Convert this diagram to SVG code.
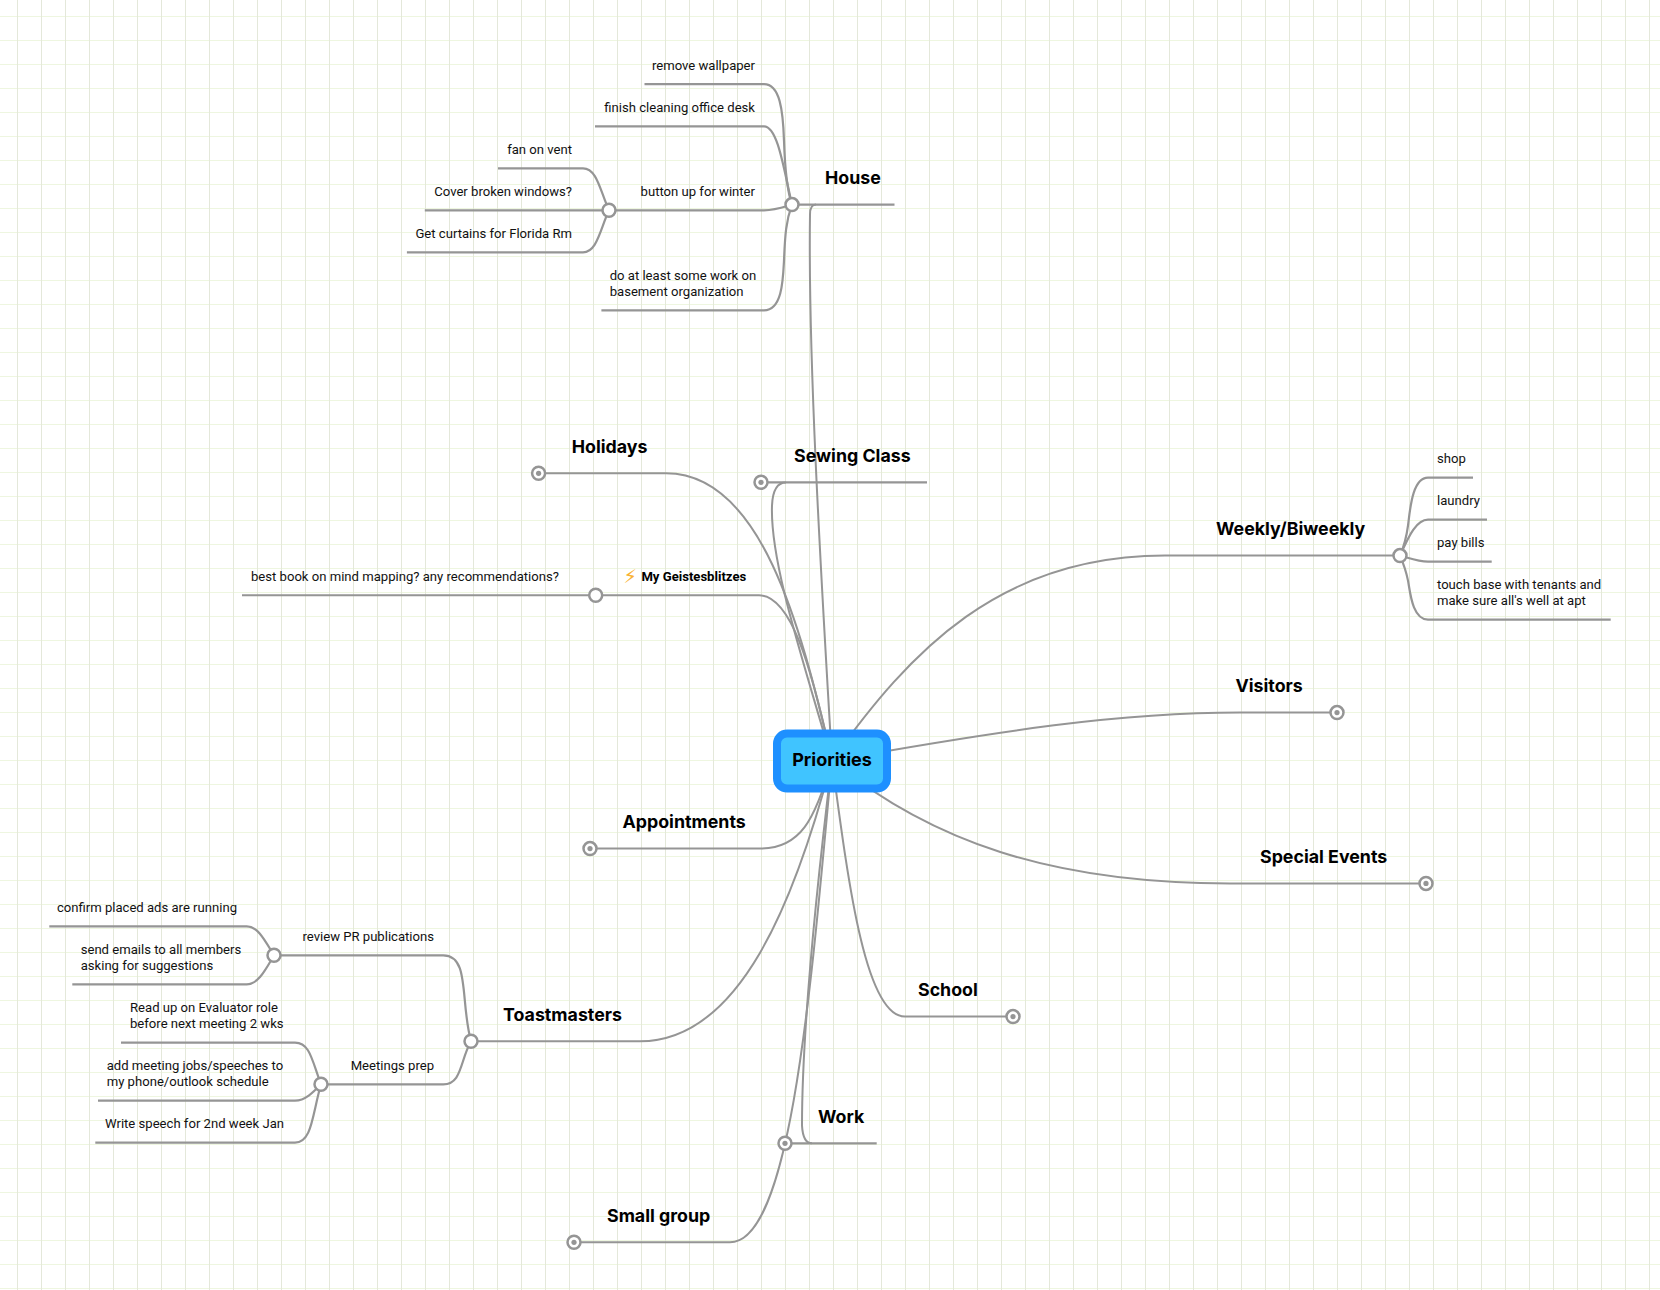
<svg xmlns="http://www.w3.org/2000/svg" width="1660" height="1290" viewBox="0 0 1660 1290">
<style>
text{font-family:Roboto,sans-serif;fill:#111;transform:translateY(-.6px)}
.t{font-family:Inter,sans-serif;font-size:17.8px;font-weight:700;fill:#000}
.s{font-size:13.1px}
.b{font-size:13.1px;font-weight:700;fill:#000}
.e{fill:none;stroke:#959595;stroke-width:2}
.l{fill:none;stroke:#959595;stroke-width:2.2}
.o{fill:#fff;stroke:#959595;stroke-width:2.5}
.d{fill:#959595;stroke:none}
.r{text-anchor:end}
</style>
<defs>
<pattern id="g" width="24" height="24" patternUnits="userSpaceOnUse">
<rect x="0" y="16" width="24" height="1" fill="#eef6e0"/>
<rect x="17" y="0" width="1" height="24" fill="#e4e8da"/>
</pattern>
<g id="open"><circle r="6.5" class="o"/></g>
<g id="closed"><circle r="6.5" class="o"/><circle r="2.6" class="d"/></g>
</defs>
<rect width="1660" height="1290" fill="#fff"/>
<rect width="1660" height="1290" fill="url(#g)"/>
<g transform="translate(0 .6)">
<g id="connectors">
<path class="e" d="M832,760C820,560 808,350 810,214Q810,204 816,204"/>
<path class="l" d="M792,204H894.5"/>
<path class="l" d="M644.5,83.5H764C780,83.5 783,110 784,140C785,170 787,190 792,204"/>
<path class="l" d="M595,125.7H764C778,125.7 784,170 792,204"/>
<path class="l" d="M609,209.7H764C775,209.7 782,207 792,204"/>
<path class="l" d="M601.4,309.7H764C782,309.7 783,280 784,260C785,235 786,220 792,204"/>
<path class="l" d="M498,167.7H583C597,167.7 600,190 609,209.7"/>
<path class="l" d="M424.8,209.7H609"/>
<path class="l" d="M406.9,251.7H583C597,251.7 600,229 609,209.7"/>
<path class="e" d="M538.6,472.7H666C760,472.7 800,620 832,760"/>
<path class="e" d="M832,760C800,650 770,560 772,505Q773,482 786,482"/>
<path class="l" d="M761,481.7H927"/>
<path class="e" d="M242,594.7H759C790,594.7 810,660 832,760"/>
<path class="e" d="M832,760C910,650 1000,555 1165,555H1400"/>
<path class="l" d="M1428,477H1473M1428,519H1487M1428,561H1491.7M1428,619H1610.7"/>
<path class="l" d="M1428,477C1412,477 1410,510 1408,525C1406,540 1403,548 1400,555"/>
<path class="l" d="M1428,519C1415,519 1407,540 1400,555"/>
<path class="l" d="M1428,561C1418,561 1408,557 1400,555"/>
<path class="l" d="M1428,619C1412,619 1410,590 1408,580C1406,570 1403,562 1400,555"/>
<path class="e" d="M832,760C1000,730 1120,712 1240,712H1337"/>
<path class="e" d="M832,760C930,840 1050,882.8 1230,882.8H1426"/>
<path class="e" d="M832,760C848,880 865,1016 905,1016H1013"/>
<path class="e" d="M832,760C815,900 802,1040 802,1125Q803,1142.7 812,1142.7"/>
<path class="l" d="M785,1142.7H876.7"/>
<path class="e" d="M574,1241.7H730C790,1241.7 810,1000 832,760"/>
<path class="e" d="M590,848H760C800,848 815,820 832,760"/>
<path class="e" d="M471,1040.7H640C740,1040.7 795,900 832,760"/>
<path class="l" d="M274,954.7H443.3C470,954.7 460,1000 471,1040.7"/>
<path class="l" d="M321,1083.7H443.3C462,1083.7 460,1060 471,1040.7"/>
<path class="l" d="M49.3,925.7H246.7C258,925.7 265,940 274,954.7"/>
<path class="l" d="M72.3,983.7H246.7C258,983.7 265,970 274,954.7"/>
<path class="l" d="M121,1042H295C310,1042 312,1060 321,1083.7"/>
<path class="l" d="M98,1100H295C305,1100 313,1092 321,1083.7"/>
<path class="l" d="M95.3,1142H295C312,1142 312,1115 321,1083.7"/>
</g>
<g id="n-center"><rect x="777" y="733" width="110" height="55" rx="10" fill="#40c4ff" stroke="#1e90ff" stroke-width="8"/><text x="832" y="766" text-anchor="middle" style="font-family:Inter,sans-serif;font-size:18px;font-weight:700;fill:#000">Priorities</text></g>
<g id="n-house"><text class="t" x="825" y="184">House</text><use href="#open" x="792" y="204"/></g>
<g id="n-remove"><text class="s r" x="755" y="70">remove wallpaper</text></g>
<g id="n-finish"><text class="s r" x="755" y="112">finish cleaning office desk</text></g>
<g id="n-button"><text class="s r" x="755" y="196">button up for winter</text><use href="#open" x="609" y="209.7"/></g>
<g id="n-basement"><text class="s" x="609.7" y="280">do at least some work on</text><text class="s" x="609.7" y="296">basement organization</text></g>
<g id="n-fan"><text class="s r" x="572" y="154">fan on vent</text></g>
<g id="n-cover"><text class="s r" x="572" y="196">Cover broken windows?</text></g>
<g id="n-curtains"><text class="s r" x="572" y="238">Get curtains for Florida Rm</text></g>
<g id="n-holidays"><text class="t" x="571.8" y="452.7">Holidays</text><use href="#closed" x="538.6" y="472.7"/></g>
<g id="n-sewing"><text class="t" x="794" y="462">Sewing Class</text><use href="#closed" x="761" y="481.7"/></g>
<g id="n-geist"><text x="623.5" y="583" style="font-family:'DejaVu Sans',sans-serif;font-size:19px;fill:#f9b233">⚡</text><text class="b" x="641.4" y="581">My Geistesblitzes</text><use href="#open" x="595.7" y="594.7"/></g>
<g id="n-book"><text class="s" x="251" y="581">best book on mind mapping? any recommendations?</text></g>
<g id="n-weekly"><text class="t" x="1216" y="535">Weekly/Biweekly</text><use href="#open" x="1400" y="555"/></g>
<g id="n-shop"><text class="s" x="1437" y="463">shop</text></g>
<g id="n-laundry"><text class="s" x="1437" y="505">laundry</text></g>
<g id="n-bills"><text class="s" x="1437" y="547">pay bills</text></g>
<g id="n-tenants"><text class="s" x="1437" y="589">touch base with tenants and</text><text class="s" x="1437" y="605">make sure all's well at apt</text></g>
<g id="n-visitors"><text class="t" x="1235.5" y="692">Visitors</text><use href="#closed" x="1337" y="712"/></g>
<g id="n-special"><text class="t" x="1260" y="863">Special Events</text><use href="#closed" x="1426" y="882.8"/></g>
<g id="n-school"><text class="t" x="918" y="996">School</text><use href="#closed" x="1013" y="1016"/></g>
<g id="n-work"><text class="t" x="818" y="1123">Work</text><use href="#closed" x="785" y="1142.7"/></g>
<g id="n-small"><text class="t" x="607" y="1222">Small group</text><use href="#closed" x="574" y="1241.7"/></g>
<g id="n-appointments"><text class="t" x="622.5" y="828">Appointments</text><use href="#closed" x="590" y="848"/></g>
<g id="n-toast"><text class="t" x="503" y="1021">Toastmasters</text><use href="#open" x="471" y="1040.7"/></g>
<g id="n-pr"><text class="s r" x="434" y="941">review PR publications</text><use href="#open" x="274" y="954.7"/></g>
<g id="n-prep"><text class="s r" x="434" y="1070">Meetings prep</text><use href="#open" x="321" y="1083.7"/></g>
<g id="n-confirm"><text class="s r" x="237" y="912">confirm placed ads are running</text></g>
<g id="n-emails"><text class="s" x="80.7" y="954">send emails to all members</text><text class="s" x="80.7" y="970">asking for suggestions</text></g>
<g id="n-read"><text class="s" x="130" y="1012">Read up on Evaluator role</text><text class="s" x="130" y="1028">before next meeting 2 wks</text></g>
<g id="n-add"><text class="s" x="106.7" y="1070">add meeting jobs/speeches to</text><text class="s" x="106.7" y="1086">my phone/outlook schedule</text></g>
<g id="n-write"><text class="s r" x="284" y="1128">Write speech for 2nd week Jan</text></g>
</g>
</svg>
